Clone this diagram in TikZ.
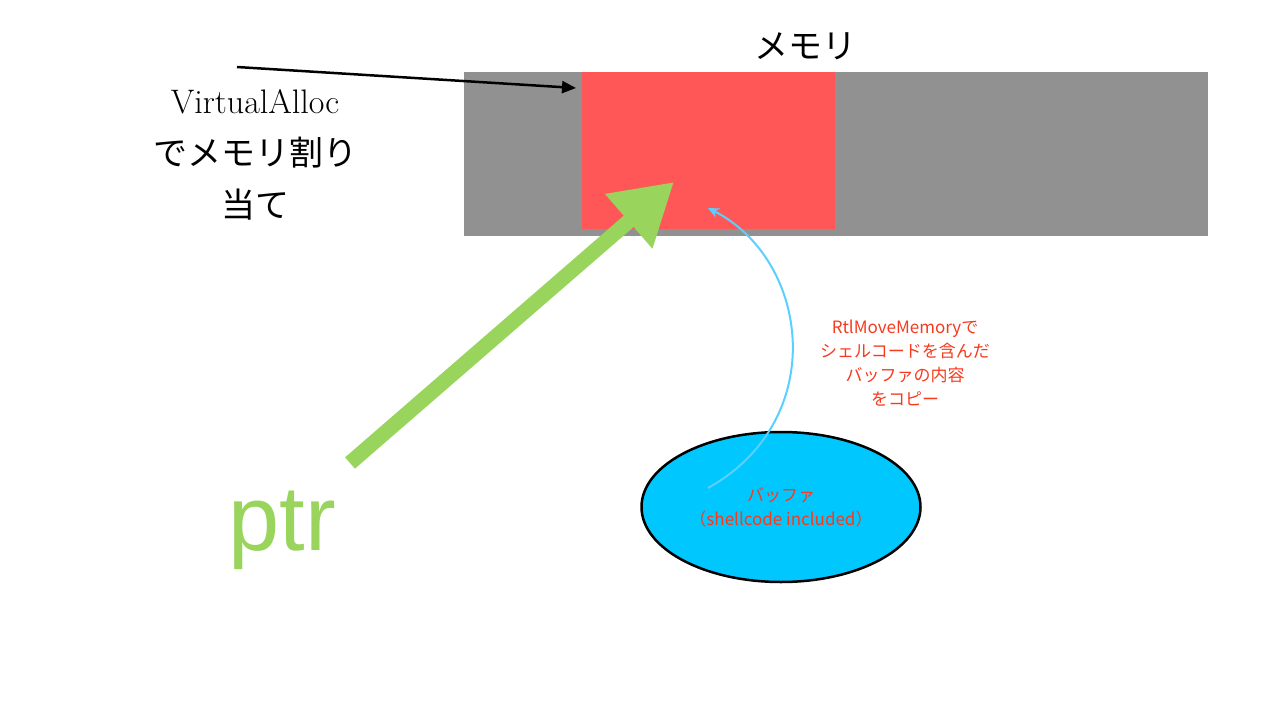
\documentclass[tikz,border=0pt]{standalone}
\usepackage{fontspec}
\newfontfamily\jp{Noto Sans CJK JP}
\newfontfamily\lsans{Liberation Sans}
\usetikzlibrary{arrows.meta,shapes.geometric}
\definecolor{gbar}{HTML}{919191}
\definecolor{rblk}{HTML}{FF5757}
\definecolor{grn}{HTML}{99D45C}
\definecolor{cyanf}{HTML}{00C8FF}
\definecolor{bcur}{HTML}{5AD0FF}
\definecolor{rtxt}{HTML}{F53A1E}
\tikzset{big/.style={font=\fontsize{34}{52}\selectfont, align=center, inner sep=0},
 small/.style={font=\jp\fontsize{17}{24}\selectfont, text=rtxt, align=center, inner sep=0}}
\begin{document}
\begin{tikzpicture}[x=1pt,y=-1pt]
\useasboundingbox (0,0) rectangle (1280,720);
\fill[gbar] (464,72) rectangle (1208,236);
\fill[rblk] (582,72) rectangle (835,229);
\node[big] (mem) at (805,46) {\jp メモリ};
\node[big] (va) at (255,155) {VirtualAlloc\\{\jp でメモリ割り}\\{\jp 当て}};
\coordinate (a1) at (237,67);
\coordinate (a2) at (576,88);
\draw[line width=2.5pt,-{Triangle[length=14pt,width=12pt]}] (a1) -- (a2);
\coordinate (g1) at (350,463);
\coordinate (g2) at (674,182);
\draw[grn,line width=15pt,-{Triangle[length=60pt,width=68pt]}] (g1) -- (g2);
\node[text=grn,font=\lsans\fontsize{92}{92}\selectfont,inner sep=0] (ptr) at (282,530) {ptr};
\node[draw=black,line width=2.5pt,fill=cyanf,ellipse,minimum width=279pt,minimum height=150pt,inner sep=0] (buf) at (781,507) {};
\node[small] (bt) at (781,507) {バッファ\\（shellcode included）};
\coordinate (c1) at (708,488);
\coordinate (c2) at (708,208);
\draw[bcur,line width=2pt,-{Stealth[length=11pt,width=10pt]}] (c1) .. controls (830,420) and (810,260) .. (c2);
\node[small] (rt) at (905,363) {RtlMoveMemoryで\\シェルコードを含んだ\\バッファの内容\\をコピー};
\end{tikzpicture}
\end{document}
